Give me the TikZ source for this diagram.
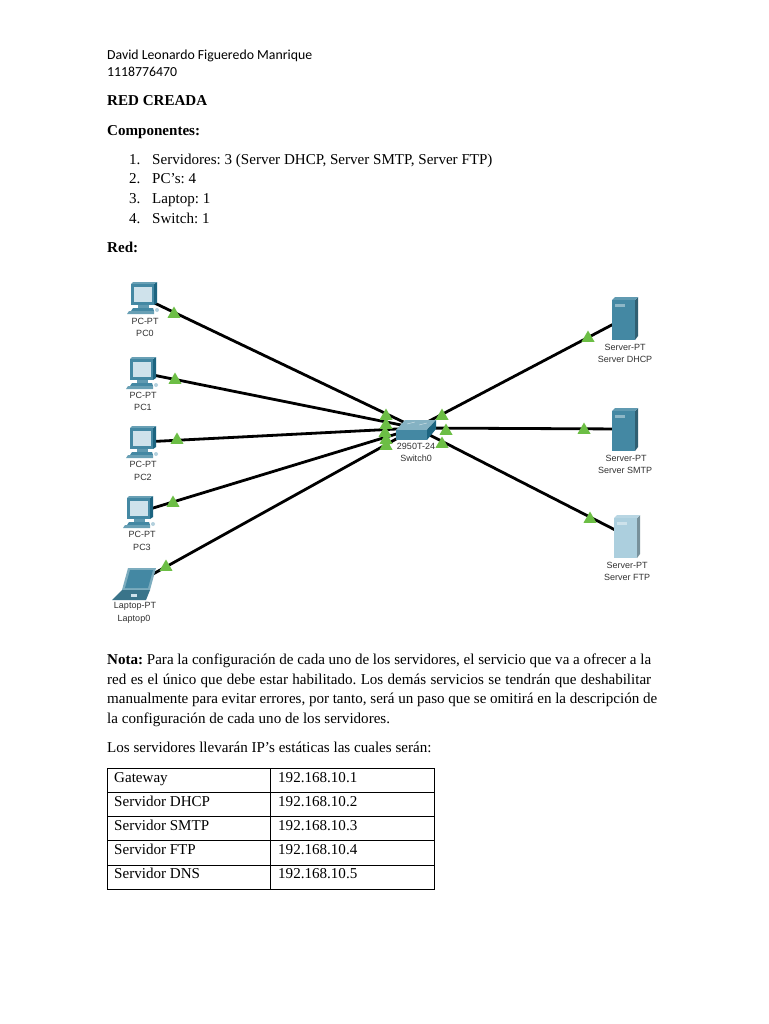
\documentclass[tikz,border=0pt]{standalone}
\usepackage{fontspec}
\setmainfont{Liberation Serif}
\newfontfamily\headfont{Carlito}
\newfontfamily\iconfont{Liberation Sans}
\usetikzlibrary{shapes.geometric}
\definecolor{ptteal}{RGB}{68,136,163}
\definecolor{ptdark}{RGB}{28,100,128}
\definecolor{ptscreen}{RGB}{207,226,235}
\definecolor{ptpale}{RGB}{172,207,222}
\definecolor{ptgreen}{RGB}{108,190,69}
\definecolor{pttext}{RGB}{50,50,50}
\tikzset{
	bodytext/.style={anchor=base west, inner sep=0pt, font=\frenchspacing\fontsize{15.07}{16}\selectfont},
	headtext/.style={anchor=base west, inner sep=0pt, font=\headfont\fontsize{13.8}{16}\selectfont},
	tabletext/.style={bodytext},
	iconlabel/.style={inner sep=0pt, text=pttext, font=\iconfont\fontsize{9}{10}\selectfont},
	device/.style={inner sep=0pt, minimum width=26pt, minimum height=30pt},
	link/.style={line width=2.8pt, black},
	linkup/.style={regular polygon, regular polygon sides=3, fill=ptgreen, inner sep=0pt, minimum size=15pt},
	pics/pcicon/.style={code={
		\fill[ptdark] (10,-14) -- (13,-16) -- (13,5) -- (10,7) -- cycle;
		\fill[ptteal!80!white] (-11,-16) -- (13,-16) -- (10,-14) -- (-13,-14) -- cycle;
		\fill[ptteal] (-13,-14) rectangle (10,7);
		\fill[ptscreen] (-10.5,-11.5) rectangle (8,4);
		\fill[ptteal!85!white] (-6,7) rectangle (5,10);
		\fill[ptteal] (-11,10) -- (9,10) -- (10,13) -- (-13,13) -- cycle;
		\fill[ptteal!80!white] (-15,13) -- (10,13) -- (10,16) -- (-17,16) -- cycle;
		\fill[ptscreen!80!ptteal] (13,12) circle (2);
	}},
	pics/laptopicon/.style={code={
		\fill[ptteal!70!white] (-7,-16) -- (21,-16) -- (15,6) -- (-13,6) -- cycle;
		\fill[ptteal] (-5,-14) -- (18,-14) -- (13,4) -- (-10,4) -- cycle;
		\fill[ptteal!85!black] (-13,6) -- (15,6) -- (11,16) -- (-23,16) -- cycle;
		\fill[ptscreen] (-4,10) rectangle (2,13);
	}},
	pics/servericon/.style={
		code={
		\fill[#1!70!black] (10,-18) -- (13,-21) -- (13,18) -- (10,22) -- cycle;
		\fill[#1!85!white] (-10,-21) -- (13,-21) -- (10,-18) -- (-13,-18) -- cycle;
		\fill[#1] (-13,-18) rectangle (10,22);
		\fill[white,opacity=.4] (-10,-14) rectangle (0,-11);
	}},
	pics/switchicon/.style={code={
		\fill[ptteal!65!white] (-11,-8) -- (20,-8) -- (11,2) -- (-20,2) -- cycle;
		\fill[ptteal] (-20,2) -- (11,2) -- (11,12) -- (-20,12) -- cycle;
		\fill[ptdark] (11,2) -- (20,-8) -- (20,1) -- (11,12) -- cycle;
		\draw[white,opacity=.6] (-9,-4) -- (-1,-6) (3,-3) -- (11,-5);
	}}
}

\begin{document}
\begin{tikzpicture}[x=1pt,y=-1pt]
	\useasboundingbox (0,0) rectangle (768,1024);
	\fill[white] (0,0) rectangle (768,1024);

	% encabezado
	\node[headtext] (autor) at (107,60) {David Leonardo Figueredo Manrique};
	\node[headtext] (cedula) at (107,77) {1118776470};
	\node[bodytext] (titulo) at (107,105.5) {\bfseries RED CREADA};
	\node[bodytext] (comp) at (107,135.5) {\bfseries Componentes:};

	% lista
	\foreach \n/\y/\txt in {1/164.5/{Servidores: 3 (Server DHCP, Server SMTP, Server FTP)},2/184/{PC’s: 4},3/203.5/{Laptop: 1},4/223/{Switch: 1}}{
		\node[bodytext] (num\n) at (129,\y) {\n.};
		\node[bodytext] (item\n) at (152,\y) {\txt};
	}
	\node[bodytext] (red) at (107,252.5) {\bfseries Red:};

	% equipos
	\node[device] (pc0) at (144,298) {};
	\node[device] (pc1) at (143,373) {};
	\node[device] (pc2) at (143,442) {};
	\node[device] (pc3) at (140,512) {};
	\node[device] (laptop0) at (135,584) {};
	\node[device] (sw0) at (416,428) {};
	\node[device] (dhcp) at (625,318) {};
	\node[device] (smtp) at (625,429) {};
	\node[device] (ftp) at (627,536) {};

	% cables
	\foreach \eq in {pc0,pc1,pc2,pc3,laptop0,dhcp,smtp,ftp}
		\draw[link] (\eq.center) -- (sw0.center);

	% iconos
	\foreach \eq in {pc0,pc1,pc2,pc3}
		\pic at (\eq) {pcicon};
	\pic at (laptop0) {laptopicon};
	\pic at (dhcp) {servericon=ptteal};
	\pic at (smtp) {servericon=ptteal};
	\pic at (ftp) {servericon=ptpale};

	% triangulos verdes
	\foreach \nom/\pos in {a/{(174,314)},b/{(175,380)},c/{(177,440)},d/{(173,503)},e/{(166,567)},
		f/{(386,416)},g/{(386,425)},h/{(385,433)},i/{(386,440)},j/{(386,446)},
		k/{(442,416)},l/{(446,431)},m/{(442,444)},n/{(588,338)},o/{(584,430)},p/{(590,519)}}
		\node[linkup] (led\nom) at \pos {};
	\pic at (sw0) {switchicon};

	% etiquetas
	\foreach \nom/\x/\y/\txt in {a/145/321/PC-PT,b/145/333/PC0,c/143/395/PC-PT,d/143/407/PC1,
		e/143/464/PC-PT,f/143/477/PC2,g/142/534/PC-PT,h/142/547/PC3,
		i/135/606/Laptop-PT,j/134/619/Laptop0,k/416/446/2950T-24,l/416/458/Switch0,
		m/625/347/Server-PT,n/625/359/Server DHCP,o/626/458/Server-PT,p/625/470/Server SMTP,
		q/627/565/Server-PT,r/627/577/Server FTP}
		\node[iconlabel] (lab\nom) at (\x,\y) {\txt};

	% nota
	\node[bodytext] (nota1) at (107,664.5) {\makebox[544pt][s]{\textbf{Nota:} Para la configuración de cada uno de los servidores, el servicio que va a ofrecer a la}};
	\node[bodytext] (nota2) at (107,684) {\makebox[544pt][s]{red es el único que debe estar habilitado. Los demás servicios se tendrán que deshabilitar}};
	\node[bodytext] (nota3) at (107,703.5) {\makebox[550pt][s]{manualmente para evitar errores, por tanto, será un paso que se omitirá en la descripción de}};
	\node[bodytext] (nota4) at (107,723) {la configuración de cada uno de los servidores.};
	\node[bodytext] (nota5) at (107,752.5) {Los servidores llevarán IP’s estáticas las cuales serán:};

	% tabla
	\draw[black,line width=0.7pt] (107,768) rectangle (434,889);
	\draw[black,line width=0.7pt] (270.5,768) -- (270.5,889);
	\foreach \y in {792,816,840,865}
		\draw[black,line width=0.7pt] (107,\y) -- (434,\y);
	\foreach \n/\y/\srv/\ip in {1/782/Gateway/192.168.10.1,2/806/Servidor DHCP/192.168.10.2,3/830/Servidor SMTP/192.168.10.3,4/854/Servidor FTP/192.168.10.4,5/878.5/Servidor DNS/192.168.10.5}{
		\node[tabletext] (srv\n) at (114,\y) {\srv};
		\node[tabletext] (ip\n) at (278,\y) {\ip};
	}
\end{tikzpicture}
\end{document}
